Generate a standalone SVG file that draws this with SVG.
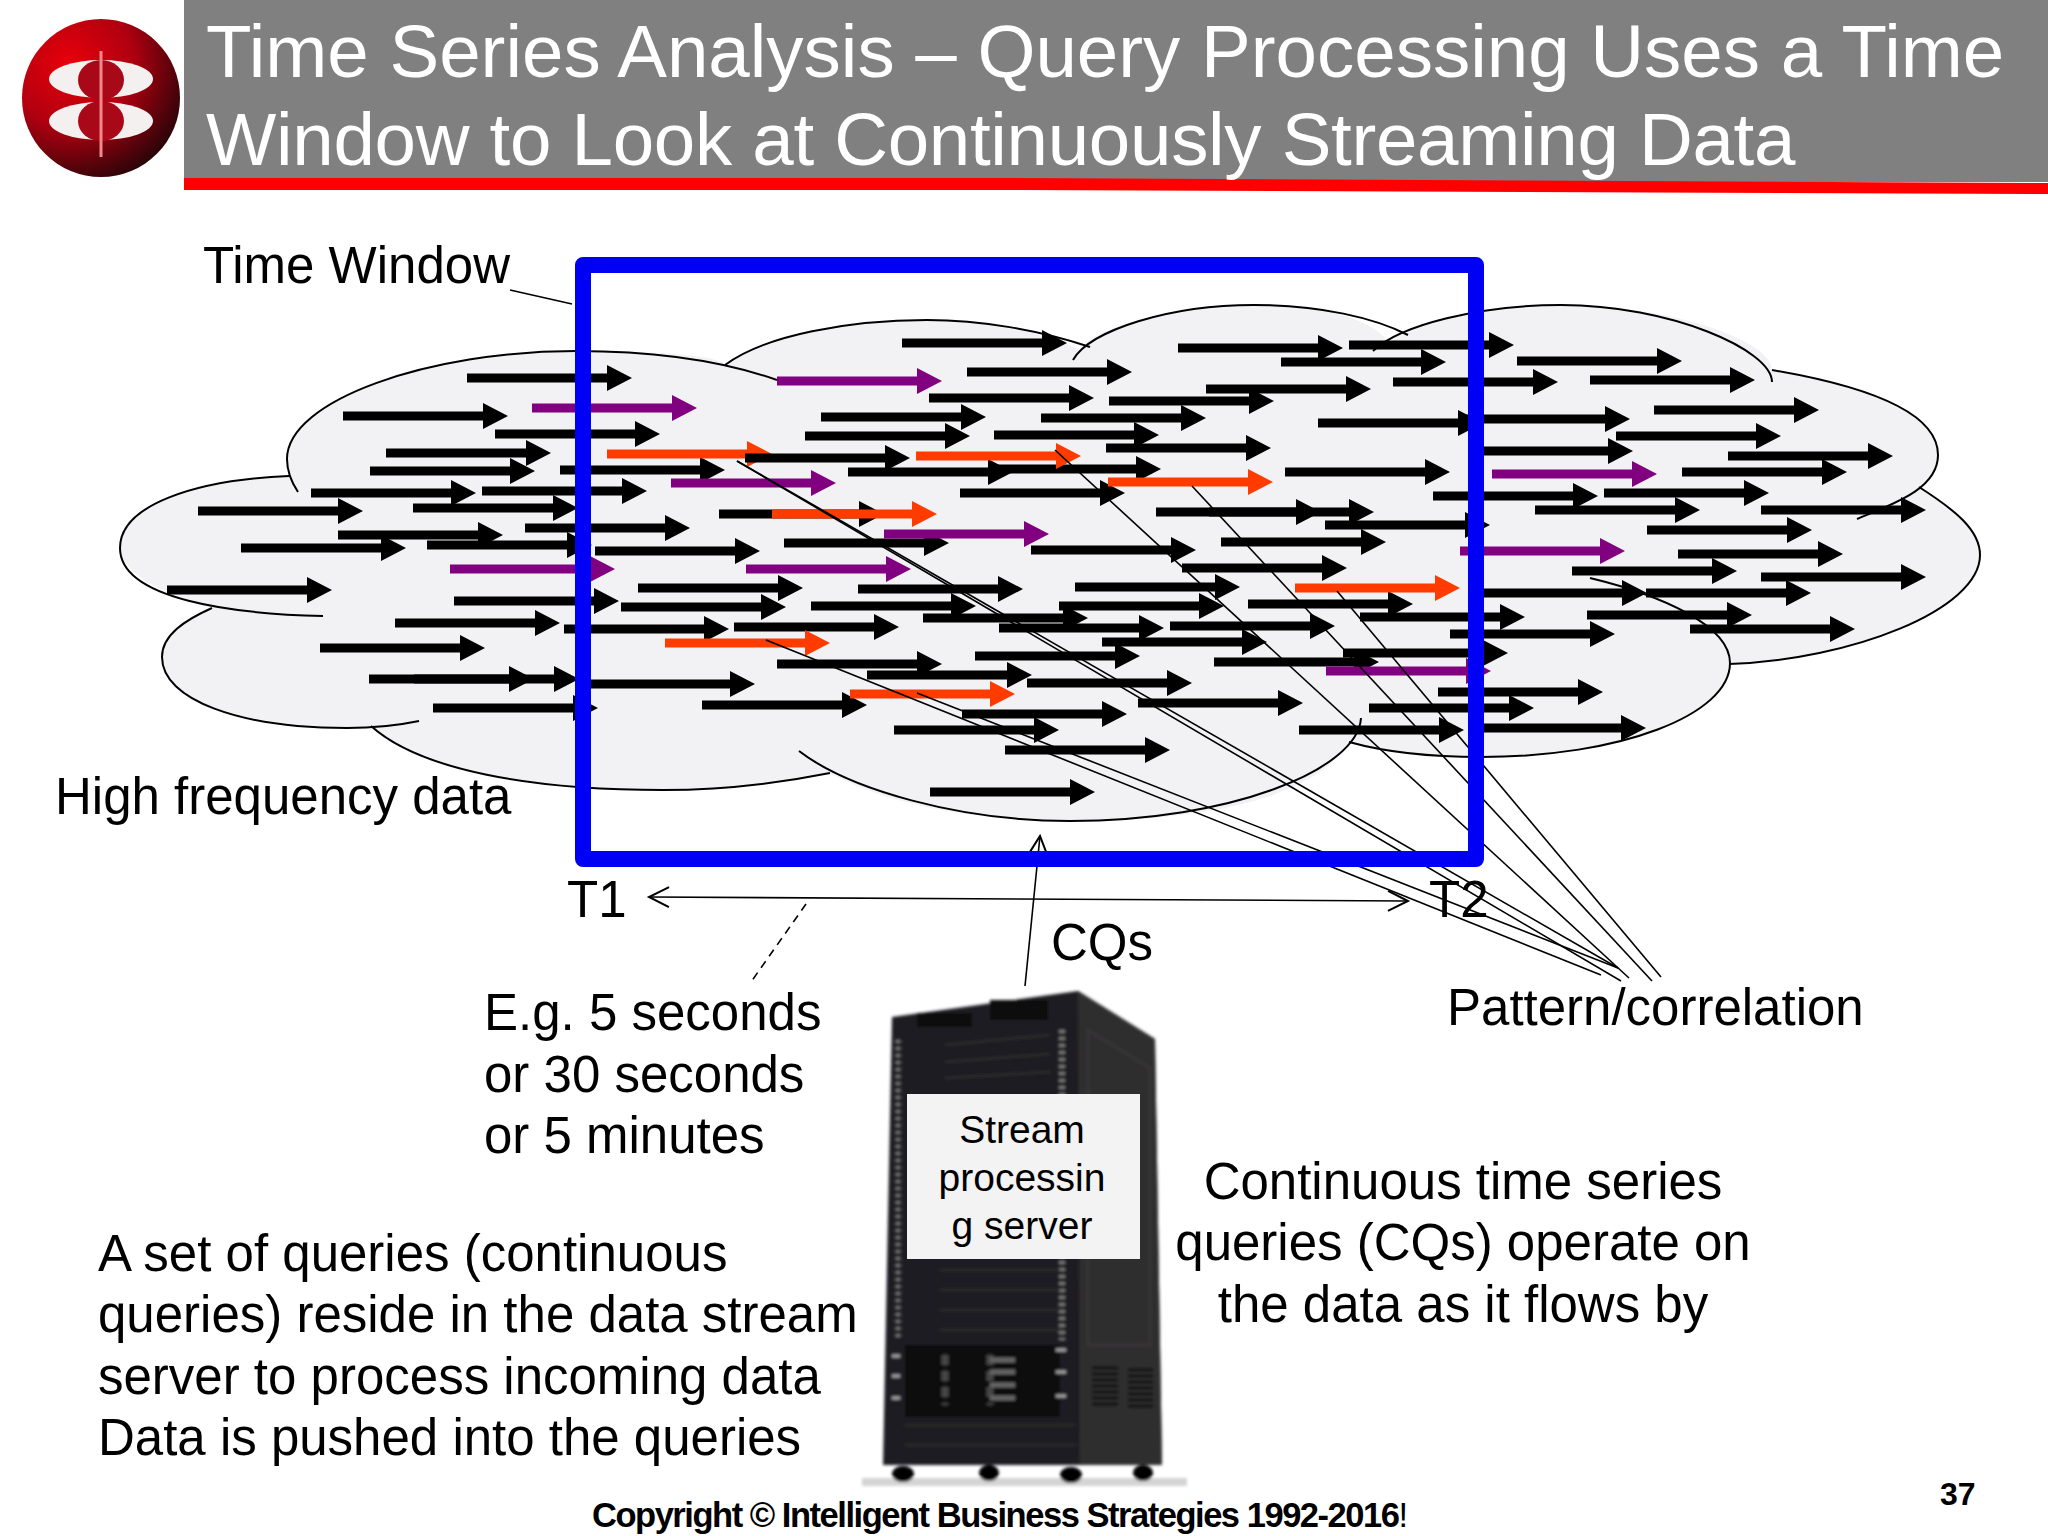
<svg xmlns="http://www.w3.org/2000/svg" width="2048" height="1536" viewBox="0 0 2048 1536">
<style>
.t{font-family:"Liberation Sans",Arial,sans-serif;fill:#000;font-size:51px}
.h{font-family:"Liberation Sans",Arial,sans-serif;fill:#fff;font-size:74.5px}
.s{font-family:"Liberation Sans",Arial,sans-serif;fill:#000;font-size:39px;text-anchor:middle}
.o{fill:none;stroke:#000;stroke-width:2}
.l{fill:none;stroke:#000;stroke-width:1.6}
.bar{fill:#0b0b0b}
</style>
<defs>
<path id="a" d="M0-4.6V4.6H140V13L165 0 140-13V-4.6Z"/>
<marker id="op" markerWidth="26" markerHeight="24" refX="22" refY="12" orient="auto-start-reverse" markerUnits="userSpaceOnUse"><path d="M2 2L22 12 2 22" fill="none" stroke="#000" stroke-width="2"/></marker>
<radialGradient id="ball" cx="0.3" cy="0.28" r="0.8"><stop offset="0" stop-color="#e8000a"/><stop offset="0.5" stop-color="#b00010"/><stop offset="1" stop-color="#280408"/></radialGradient>
<filter id="soft" x="-5%" y="-5%" width="110%" height="110%"><feGaussianBlur stdDeviation="1.4"/></filter>
</defs>
<rect width="2048" height="1536" fill="#fff"/>

<g id="header">
<rect x="184" y="0" width="1864" height="182" fill="#808080"/>
<path d="M184 178H1000L2048 183V194L1000 190H184Z" fill="#f00"/>
<text class="h" x="206" y="77">Time Series Analysis – Query Processing Uses a Time</text>
<text class="h" x="206" y="165" style="letter-spacing:-0.3px">Window to Look at Continuously Streaming Data</text>
</g>
<g id="logo">
<circle cx="101" cy="98" r="79" fill="url(#ball)"/>
<ellipse cx="101" cy="79" rx="52" ry="19" fill="#f5f0f0"/>
<ellipse cx="101" cy="121" rx="52" ry="19" fill="#f5f0f0"/>
<ellipse cx="101" cy="80" rx="23" ry="20" fill="#a80818"/>
<ellipse cx="101" cy="121" rx="23" ry="20" fill="#a80818"/>
<path d="M101 51V157" stroke="#f08a8a" stroke-width="3"/>
</g>

<g id="cloud">
<path fill="#f2f1f3" d="M120,548C120,505 195,480 289,476L287,459C287,400 430,351 576,351C650,351 720,355 725,365C765,335 850,320 927,320C980,320 1040,330 1080,350C1090,330 1170,305 1254,305C1320,305 1375,318 1390,345C1400,325 1480,305 1561,305C1670,305 1772,340 1772,370C1860,385 1938,410 1938,455C1938,475 1930,480 1919,487C1955,510 1980,530 1980,555C1980,610 1850,660 1729,664C1730,715 1620,757 1481,757C1430,757 1385,752 1349,742C1320,790 1230,821 1070,821C960,821 880,800 830,773C770,785 720,790 663,790C530,790 420,770 371,726C350,728 347,728 347,728C240,728 162,700 162,657C162,635 185,620 212,608C160,595 120,570 120,548Z"/>
<path class="o" d="M323,616C235,614 120,600 120,548C120,505 195,480 289,476"/>
<path class="o" d="M298,492C290,480 287,470 287,459C287,400 430,351 576,351C650,351 720,360 777,380"/>
<path class="o" d="M725,365C765,335 850,320 927,320C980,320 1040,330 1090,347"/>
<path class="o" d="M1073,360C1090,330 1170,305 1254,305C1320,305 1375,318 1408,335"/>
<path class="o" d="M1373,351C1400,325 1480,305 1561,305C1670,305 1772,350 1772,382"/>
<path class="o" d="M1772,370C1860,385 1938,410 1938,455C1938,490 1890,505 1857,519"/>
<path class="o" d="M1919,487C1955,510 1980,530 1980,555C1980,610 1850,660 1729,664"/>
<path class="o" d="M1590,578C1660,595 1730,625 1730,663C1730,715 1620,757 1481,757C1430,757 1385,752 1349,742"/>
<path class="o" d="M1361,718C1358,770 1230,821 1070,821C960,821 850,790 799,751"/>
<path class="o" d="M830,773C770,785 720,790 663,790C530,790 420,770 371,726"/>
<path class="o" d="M419,721C400,725 380,728 347,728C240,728 162,700 162,657C162,635 185,620 212,608"/>
</g>

<g id="data-arrows-black" fill="#000">
<use href="#a" x="467" y="378"/><use href="#a" x="343" y="416"/><use href="#a" x="495" y="434"/><use href="#a" x="386" y="453"/><use href="#a" x="370" y="471"/><use href="#a" x="560" y="470"/><use href="#a" x="311" y="493"/><use href="#a" x="482" y="491"/><use href="#a" x="413" y="508"/><use href="#a" x="198" y="511"/><use href="#a" x="525" y="528"/><use href="#a" x="338" y="535"/><use href="#a" x="241" y="548"/><use href="#a" x="427" y="545"/><use href="#a" x="595" y="551"/><use href="#a" x="167" y="590"/><use href="#a" x="454" y="601"/><use href="#a" x="638" y="588"/><use href="#a" x="621" y="607"/><use href="#a" x="395" y="623"/><use href="#a" x="564" y="629"/><use href="#a" x="734" y="627"/><use href="#a" x="320" y="648"/><use href="#a" x="369" y="679"/><use href="#a" x="414" y="679"/><use href="#a" x="590" y="684"/><use href="#a" x="433" y="708"/><use href="#a" x="702" y="705"/><use href="#a" x="777" y="664"/><use href="#a" x="902" y="343"/><use href="#a" x="967" y="372"/><use href="#a" x="929" y="398"/><use href="#a" x="821" y="417"/><use href="#a" x="805" y="436"/><use href="#a" x="994" y="435"/><use href="#a" x="848" y="472"/><use href="#a" x="960" y="493"/><use href="#a" x="719" y="514"/><use href="#a" x="784" y="543"/><use href="#a" x="858" y="589"/><use href="#a" x="811" y="606"/><use href="#a" x="923" y="618"/><use href="#a" x="975" y="656"/><use href="#a" x="867" y="675"/><use href="#a" x="962" y="714"/><use href="#a" x="894" y="730"/><use href="#a" x="930" y="792"/>
<use href="#a" x="1178" y="348"/><use href="#a" x="1281" y="362"/><use href="#a" x="1349" y="345"/><use href="#a" x="1517" y="361"/><use href="#a" x="1393" y="382"/><use href="#a" x="1590" y="380"/><use href="#a" x="1206" y="389"/><use href="#a" x="1109" y="401"/><use href="#a" x="1041" y="418"/><use href="#a" x="1106" y="448"/><use href="#a" x="1318" y="423"/><use href="#a" x="1465" y="419"/><use href="#a" x="1654" y="410"/><use href="#a" x="1616" y="436"/><use href="#a" x="1468" y="451"/><use href="#a" x="1728" y="456"/><use href="#a" x="1682" y="472"/><use href="#a" x="996" y="469"/><use href="#a" x="1285" y="472"/><use href="#a" x="1433" y="496"/><use href="#a" x="1604" y="493"/><use href="#a" x="1535" y="510"/><use href="#a" x="1761" y="510"/><use href="#a" x="1156" y="512"/><use href="#a" x="1209" y="512"/><use href="#a" x="1325" y="525"/><use href="#a" x="1647" y="530"/><use href="#a" x="1221" y="542"/><use href="#a" x="1031" y="550"/><use href="#a" x="1678" y="554"/><use href="#a" x="1182" y="568"/><use href="#a" x="1572" y="571"/><use href="#a" x="1761" y="577"/><use href="#a" x="1075" y="587"/><use href="#a" x="1059" y="606"/><use href="#a" x="1482" y="593"/><use href="#a" x="1646" y="593"/><use href="#a" x="1248" y="604"/><use href="#a" x="1360" y="617"/><use href="#a" x="1587" y="615"/><use href="#a" x="1690" y="629"/><use href="#a" x="1450" y="634"/><use href="#a" x="999" y="628"/><use href="#a" x="1170" y="626"/><use href="#a" x="1102" y="642"/><use href="#a" x="1214" y="662"/><use href="#a" x="1343" y="653"/><use href="#a" x="1027" y="683"/><use href="#a" x="1438" y="692"/><use href="#a" x="1138" y="703"/><use href="#a" x="1369" y="708"/><use href="#a" x="1299" y="730"/><use href="#a" x="1481" y="728"/><use href="#a" x="1005" y="750"/>
</g>
<g id="data-arrows-purple" fill="#800080">
<use href="#a" x="777" y="381"/><use href="#a" x="532" y="408"/><use href="#a" x="671" y="483"/><use href="#a" x="884" y="534"/><use href="#a" x="450" y="569"/><use href="#a" x="746" y="569"/><use href="#a" x="1492" y="474"/><use href="#a" x="1460" y="551"/><use href="#a" x="1326" y="671"/>
</g>
<g id="data-arrows-orange" fill="#ff3b00">
<use href="#a" x="607" y="454"/><use href="#a" x="916" y="456"/><use href="#a" x="772" y="514"/><use href="#a" x="665" y="643"/><use href="#a" x="850" y="694"/><use href="#a" x="1108" y="482"/><use href="#a" x="1295" y="588"/>
</g>
<g id="data-arrows-top" fill="#000">
<use href="#a" x="745" y="458"/>
</g>

<g id="connectors">
<path class="l" d="M737 461L1618 968"/>
<path class="l" d="M737 461L1621 981"/>
<path class="l" d="M766 640L1601 975"/>
<path class="l" d="M917 693L1618 968"/>
<path class="l" d="M1055 450L1629 978"/>
<path class="l" d="M1192 486L1652 981"/>
<path class="l" d="M1337 591L1661 977"/>
<path class="l" d="M510 290L572 304"/>
<path class="l" d="M649 897L1408 901" marker-start="url(#op)" marker-end="url(#op)"/>
<path class="l" d="M806 904L751 982" stroke-dasharray="8 6"/>
<path class="l" d="M1025 986L1040 836" stroke-width="2" marker-end="url(#op)"/>
</g>

<g id="time-window">
<rect x="583" y="265" width="893" height="594" fill="none" stroke="#0000f5" stroke-width="16" stroke-linejoin="round"/>
</g>

<g id="server">
<g filter="url(#soft)">
<rect x="862" y="1478" width="325" height="8" fill="#d4d4d4"/>
<path d="M892 1017L1078 991 1155 1039 1162 1465H883Z" fill="#1f1f21"/>
<path d="M1078 991L1155 1039 1162 1465H1080Z" fill="#2f2d2f"/>
<path d="M1088 1030L1150 1068V1345H1088Z" fill="none" stroke="#3a383a" stroke-width="2"/>
<rect class="bar" x="917" y="1013" width="55" height="14"/><rect class="bar" x="990" y="1000" width="58" height="20"/>
<path d="M898 1040V1340" stroke="#707070" stroke-width="5" stroke-dasharray="3 4"/>
<path d="M1062 1030V1340" stroke="#777" stroke-width="6" stroke-dasharray="3 4"/>
<path d="M945 1045L1050 1035M945 1062L1050 1054M945 1078L1050 1072M940 1270H1060M940 1290H1060M940 1310H1060M940 1330H1060M905 1425H1075M905 1445H1075" stroke="#333" stroke-width="1.5"/>
<rect x="905" y="1345" width="155" height="72" fill="#101010"/>
<path d="M945 1355V1405M990 1355V1405" stroke="#444" stroke-width="7" stroke-dasharray="10 6"/>
<path d="M990 1360H1015M990 1372H1015M990 1385H1015M990 1398H1015" stroke="#666" stroke-width="5"/>
<path d="M892 1356H900M892 1376H900M892 1398H900M1056 1350H1066M1056 1372H1066M1056 1396H1066" stroke="#aaa" stroke-width="3"/>
<path d="M1092 1368H1118M1092 1374H1118M1092 1380H1118M1092 1386H1118M1092 1392H1118M1092 1398H1118M1092 1404H1118M1128 1370H1153M1128 1376H1153M1128 1382H1153M1128 1388H1153M1128 1394H1153M1128 1400H1153M1128 1406H1153" stroke="#111" stroke-width="3"/>
<ellipse cx="903" cy="1474" rx="11" ry="8" fill="#050505"/><ellipse cx="989" cy="1473" rx="10" ry="8" fill="#050505"/><ellipse cx="1071" cy="1475" rx="11" ry="8" fill="#050505"/><ellipse cx="1143" cy="1473" rx="10" ry="8" fill="#050505"/>
</g>
<rect x="907" y="1094" width="233" height="165" fill="#f3f3f4"/>
<text class="s" x="1022" y="1143">Stream</text>
<text class="s" x="1022" y="1191">processin</text>
<text class="s" x="1022" y="1239">g server</text>
</g>

<g id="labels">
<text class="t" x="203" y="283">Time Window</text>
<text class="t" x="55" y="814">High frequency data</text>
<text class="t" x="567" y="917">T1</text>
<text class="t" x="1429" y="917">T2</text>
<text class="t" x="1051" y="960">CQs</text>
<text class="t" x="484" y="1030">E.g. 5 seconds</text>
<text class="t" x="484" y="1092">or 30 seconds</text>
<text class="t" x="484" y="1153">or 5 minutes</text>
<text class="t" x="1447" y="1025">Pattern/correlation</text>
<text class="t" x="98" y="1271">A set of queries (continuous</text>
<text class="t" x="98" y="1332">queries) reside in the data stream</text>
<text class="t" x="98" y="1394">server to process incoming data</text>
<text class="t" x="98" y="1455">Data is pushed into the queries</text>
<text class="t" x="1463" y="1199" text-anchor="middle">Continuous time series</text>
<text class="t" x="1463" y="1260" text-anchor="middle">queries (CQs) operate on</text>
<text class="t" x="1463" y="1322" text-anchor="middle">the data as it flows by</text>
<text class="t" x="592" y="1527" style="font-size:34.5px;font-weight:bold;letter-spacing:-1.47px">Copyright © Intelligent Business Strategies 1992-2016<tspan style="font-weight:normal">!</tspan></text>
<text class="t" x="1940" y="1505" style="font-size:32px;font-weight:bold">37</text>
</g>
</svg>
